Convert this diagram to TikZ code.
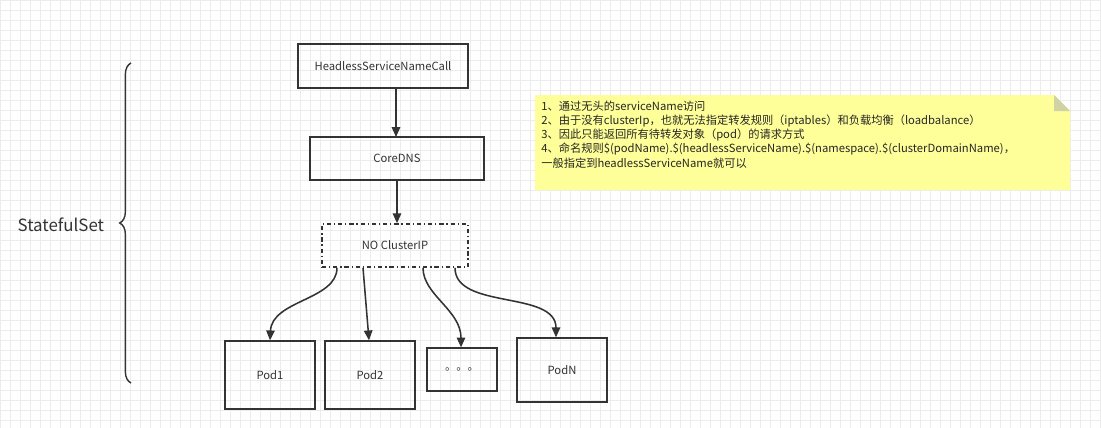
\documentclass[tikz,border=0pt]{standalone}
\usepackage{fontspec}
\setmainfont{Noto Sans CJK SC}
\usetikzlibrary{arrows.meta,decorations.pathreplacing,positioning}
\definecolor{gridcol}{RGB}{236,236,236}
\definecolor{linecol}{RGB}{51,51,51}
\definecolor{notecol}{RGB}{255,255,153}
\tikzset{
  box/.style={draw=linecol, line width=1pt, minimum width=#1, inner sep=0pt, font=\fontsize{8}{10}\selectfont, text=linecol},
  box/.default=4.3cm,
  link/.style={draw=linecol, line width=1.1pt, -{Triangle[length=7pt,width=6pt]}}
}
\begin{document}
\begin{tikzpicture}[x=0.025cm,y=-0.025cm]
\useasboundingbox (0,0) rectangle (1101,428);
%% Grid
\fill[white] (0,0) rectangle (1101,428);
\foreach \i in {0,10,...,1100} \draw[gridcol, line width=0.3pt] (\i,0)--(\i,428);
\foreach \j in {0,10,...,420} \draw[gridcol, line width=0.3pt] (0,\j)--(1101,\j);
%% Flow
\node[box=4.25cm, minimum height=1.1cm] (call) at (383,66) {HeadlessServiceNameCall};
\node[box=4.35cm, minimum height=1.08cm] (dns) at (397,158.5) {CoreDNS};
\node[box=3.65cm, minimum height=1.08cm, dash dot] (nip) at (395,245.5) {NO ClusterIP};
%% Pods
\node[box=2.25cm, minimum height=1.7cm] (pod1) at (270,375) {Pod1};
\node[box=2.25cm, minimum height=1.7cm] (pod2) at (370,375) {Pod2};
\node[box=1.75cm, minimum height=1.07cm] (etc) at (462,369.5) {。。。};
\node[box=2.25cm, minimum height=1.6cm] (podN) at (562,370) {PodN};
\coordinate (c1) at (396,88);
\coordinate (c2) at (396,137);
\draw[link] (c1)--(c2);
\draw[link] (dns.south -| 397,0)--(nip.north -| 397,0);
\draw[link] (nip.south -| 337,0) .. controls (337,300) and (272,300) .. (pod1.north -| 270,0);
\draw[link] (nip.south -| 363,0) -- (pod2.north -| 369,0);
\draw[link] (nip.south -| 423,0) .. controls (423,295) and (461,310) .. (etc.north -| 461,0);
\draw[link] (nip.south -| 455,0) .. controls (455,310) and (556,290) .. (podN.north -| 556,0);
%% Brace
\coordinate (bt) at (131,63);
\coordinate (bb) at (131,383);
\draw[linecol, line width=1pt, decorate, decoration={brace, amplitude=8pt}] (bb)--(bt);
\node[anchor=east, font=\fontsize{12}{14}\selectfont, text=linecol] (sset) at (109,225) {StatefulSet};
%% Note
\fill[notecol] (535,95)--(1054,95)--(1070,111)--(1070,190)--(535,190)--cycle;
\fill[notecol!70!black!60] (1054,95)--(1054,111)--(1070,111)--cycle;
\node[anchor=north west, align=left, font=\fontsize{8}{10}\selectfont, inner sep=0pt, text=black!85] (note) at (541,101)
{1、通过无头的serviceName访问\\
2、由于没有clusterIp，也就无法指定转发规则（iptables）和负载均衡（loadbalance）\\
3、因此只能返回所有待转发对象（pod）的请求方式\\
4、命名规则\$(podName).\$(headlessServiceName).\$(namespace).\$(clusterDomainName)，\\
一般指定到headlessServiceName就可以};
\end{tikzpicture}
\end{document}
